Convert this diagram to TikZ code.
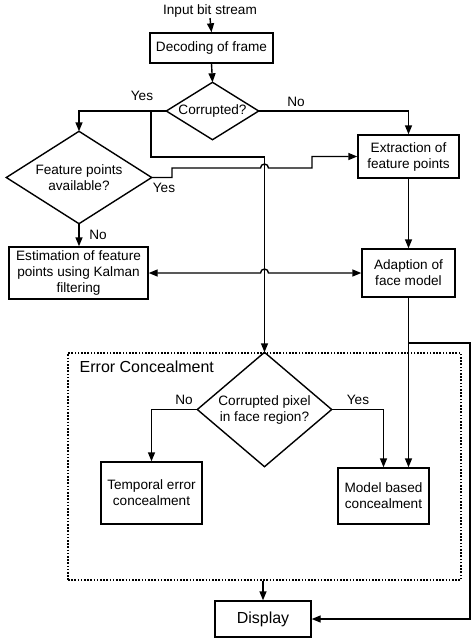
\documentclass[tikz,border=0pt]{standalone}
\usepackage{fontspec}
\setmainfont{Liberation Sans}
\usetikzlibrary{arrows.meta}
\begin{document}
\begin{tikzpicture}[x=1pt,y=-1pt, line width=1.4pt,
  every node/.style={font=\fontsize{13.6}{16}\selectfont, inner sep=0pt, align=center},
  box/.style={draw, rectangle},
  decision/.style={rectangle},
  arr/.style={-{Triangle[length=9pt,width=7pt]}},
  dbl/.style={{Triangle[length=9pt,width=7pt]}-{Triangle[length=9pt,width=7pt]}},
  bigtext/.style={font=\fontsize{16}{19}\selectfont},
  ecframe/.style={draw, dash pattern=on 1.6pt off 1.6pt, line width=1.2pt}]
\useasboundingbox (0,0) rectangle (474,641);

% dotted frame
\node[ecframe, minimum width=393pt, minimum height=227pt] (ec) at (264.5,466.5) {};
\node[bigtext, anchor=west] (ectitle) at (79,367) {Error Concealment};

% nodes
\node (in) at (210,11) {Input bit stream};
\node[box, minimum width=123pt, minimum height=30pt] (dec) at (211.5,48) {Decoding of frame};
\node[decision, minimum width=91pt, minimum height=56pt] (cor) at (212.5,111) {Corrupted?};
\node[decision, minimum width=144pt, minimum height=91pt] (fpa) at (79,177.5) {Feature points\\available?};
\node[box, minimum width=139pt, minimum height=52pt] (est) at (78.5,273) {Estimation of feature\\points using Kalman\\filtering};
\node[box, minimum width=101pt, minimum height=43pt] (ext) at (408.5,156.5) {Extraction of\\feature points};
\node[box, minimum width=93pt, minimum height=48pt] (ada) at (408.5,273) {Adaption of\\face model};
\node[decision, minimum width=133pt, minimum height=113pt] (cpf) at (264.5,409.5) {Corrupted pixel\\in face region?};
\node[box, minimum width=101pt, minimum height=62pt] (tmp) at (151.5,493) {Temporal error\\concealment};
\node[box, minimum width=91pt, minimum height=56pt] (mod) at (383.5,496) {Model based\\concealment};
\node[box, bigtext, minimum width=96pt, minimum height=36pt] (disp) at (263,619) {Display};

% diamonds
\foreach \n in {cor,fpa,cpf}
  \draw (\n.north) -- (\n.east) -- (\n.south) -- (\n.west) -- cycle;

% labels
\node (lyes1) at (142,96) {Yes};
\node (lno1) at (296,102) {No};
\node (lyes2) at (164,188) {Yes};
\node (lno2) at (98,235) {No};
\node (lno3) at (184,400) {No};
\node (lyes3) at (358,400) {Yes};

% connectors
\draw[arr] (in.south) -- (dec.north);
\draw[arr] (dec.south) -- (cor.north);
\draw[arr] (cor.west) -| (fpa.north);
\draw[arr] (cor.east) -| (ext.north);
\draw[arr] (fpa.south) -- (fpa.south |- est.north);
\coordinate (ybr) at (151,111);
\draw[arr] (ybr) |- (cpf.north |- 0,157) -- (cpf.north);
\draw[arr] (fpa.east) -- (172,177.5) -- (172,168) -- (260.5,168)
  arc[start angle=180, end angle=0, radius=4pt] -- (312,168) |- (ext.west);
\draw[arr] (ext.south) -- (ada.north);
\draw[dbl] (est.east) -- (260.5,273)
  arc[start angle=180, end angle=0, radius=4pt] -- (ada.west);
\draw[arr] (ada.south) -- (ada.south |- mod.north);
\coordinate (br) at (408.5,343);
\draw[arr] (br) -- (470,343) |- (disp.east);
\draw[arr] (cpf.west) -| (tmp.north);
\draw[arr] (cpf.east) -| (mod.north);
\draw[arr] (ec.south -| disp.north) -- (disp.north);
\end{tikzpicture}
\end{document}
